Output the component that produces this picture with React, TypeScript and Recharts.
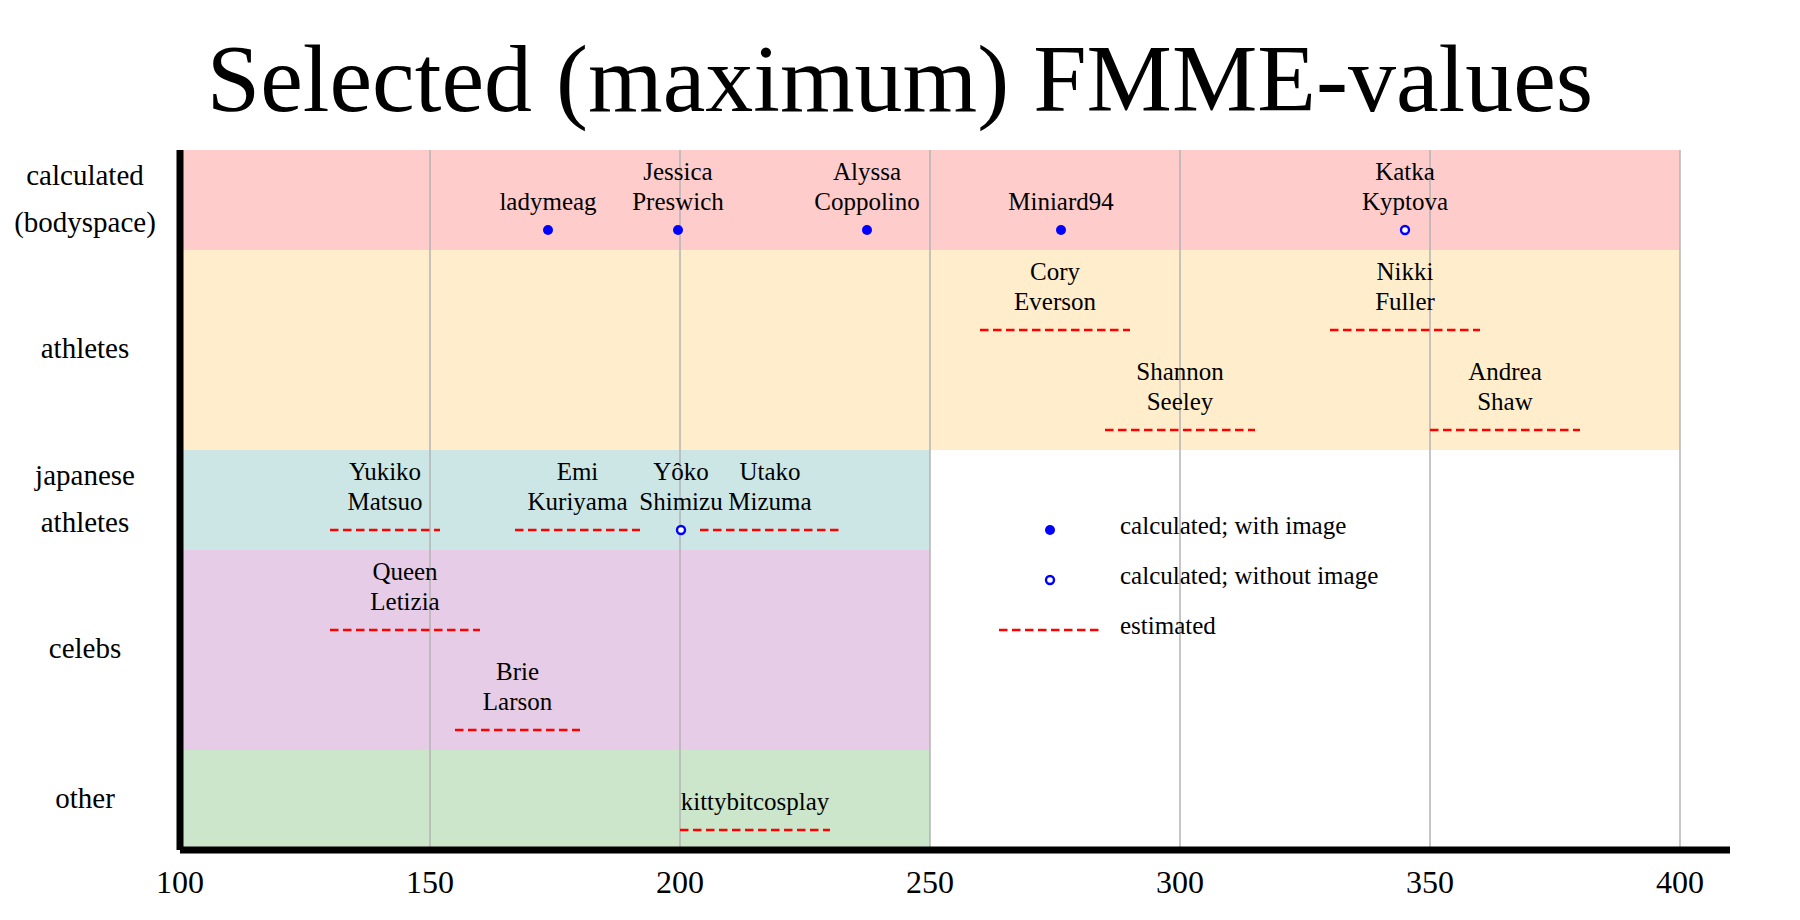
import React from 'react';
import {
  ScatterChart,
  Scatter,
  XAxis,
  YAxis,
  ReferenceArea,
  ReferenceLine,
  Legend,
} from 'recharts';

const FONT = '"Liberation Serif", "Times New Roman", Times, serif';

// groups from top to bottom, number of label rows per group, where each band stops on x
const categories = ['calculated\n(bodyspace)', 'athletes', 'japanese\nathletes', 'celebs', 'other'];
const categoryRows = [1, 2, 1, 2, 1];
const bandEnds = [400, 400, 250, 250, 250];
const bandColors = ['#ffcccc', '#ffedcc', '#cce6e6', '#e6cce6', '#cce6cc'];

const xTicks = [100, 150, 200, 250, 300, 350, 400];
const gridValues = [150, 200, 250, 300, 350, 400];

// calculated values (cat = group index, row = sub row inside the group)
const withImage = [
  { name: 'ladymeag', value: 173.6, cat: 0, row: 0 },
  { name: 'Jessica\nPreswich', value: 199.6, cat: 0, row: 0 },
  { name: 'Alyssa\nCoppolino', value: 237.4, cat: 0, row: 0 },
  { name: 'Miniard94', value: 276.2, cat: 0, row: 0 },
];

const withoutImage = [
  { name: 'Katka\nKyptova', value: 345, cat: 0, row: 0 },
  { name: 'Yôko\nShimizu', value: 200.2, cat: 2, row: 0 },
];

// estimated ranges
const estimated = [
  { name: 'Cory\nEverson', lo: 260, hi: 290, cat: 1, row: 0 },
  { name: 'Nikki\nFuller', lo: 330, hi: 360, cat: 1, row: 0 },
  { name: 'Shannon\nSeeley', lo: 285, hi: 315, cat: 1, row: 1 },
  { name: 'Andrea\nShaw', lo: 350, hi: 380, cat: 1, row: 1 },
  { name: 'Yukiko\nMatsuo', lo: 130, hi: 152, cat: 2, row: 0 },
  { name: 'Emi\nKuriyama', lo: 167, hi: 192, cat: 2, row: 0 },
  { name: 'Utako\nMizuma', lo: 204, hi: 232, cat: 2, row: 0 },
  { name: 'Queen\nLetizia', lo: 130, hi: 160, cat: 3, row: 0 },
  { name: 'Brie\nLarson', lo: 155, hi: 180, cat: 3, row: 1 },
  { name: 'kittybitcosplay', lo: 200, hi: 230, cat: 4, row: 0 },
];

const legendItems = [
  { label: 'calculated; with image', kind: 'filled' },
  { label: 'calculated; without image', kind: 'hollow' },
  { label: 'estimated', kind: 'dash' },
];

// y layout: every sub row is 2 units tall, marks sit a bit below the middle
const ROW_UNITS = 2;
const MARK_OFFSET = 1.6;
const bandStart: number[] = [];
categoryRows.forEach((r, i) => {
  bandStart.push(i === 0 ? 0 : bandStart[i - 1] + categoryRows[i - 1] * ROW_UNITS);
});
const bandEnd = bandStart.map((s, i) => s + categoryRows[i] * ROW_UNITS);
const yMax = bandEnd[bandEnd.length - 1];
const yTicks = bandStart.map((s, i) => (s + bandEnd[i]) / 2);

const markY = (cat: number, row: number) => bandStart[cat] + row * ROW_UNITS + MARK_OFFSET;

const filledData = withImage.map((d) => ({ x: d.value, y: markY(d.cat, d.row), name: d.name }));
const hollowData = withoutImage.map((d) => ({ x: d.value, y: markY(d.cat, d.row), name: d.name }));
const estLabelData = estimated.map((d) => ({ x: (d.lo + d.hi) / 2, y: markY(d.cat, d.row), name: d.name }));

const RED = '#ff0000';
const BLUE = '#0000ff';
const DASH = '8.5 4.5';

function NameLabel({ x, y, name }: { x: number; y: number; name: string }) {
  const lines = name.split('\n');
  return (
    <g>
      {lines.map((l, i) => (
        <text
          key={i}
          x={x}
          y={y - 20 - (lines.length - 1 - i) * 30}
          textAnchor="middle"
          fontSize={25}
          fontFamily={FONT}
          fill="#000"
        >
          {l}
        </text>
      ))}
    </g>
  );
}

function Marker(props: any) {
  const { cx, cy, payload, hollow } = props;
  return (
    <g>
      {hollow ? (
        <circle cx={cx} cy={cy} r={4} fill="#fff" stroke={BLUE} strokeWidth={2.4} />
      ) : (
        <circle cx={cx} cy={cy} r={5} fill={BLUE} />
      )}
      <NameLabel x={cx} y={cy} name={payload.name} />
    </g>
  );
}

function EstLabel(props: any) {
  const { cx, cy, payload } = props;
  return <NameLabel x={cx} y={cy} name={payload.name} />;
}

function XTick(props: any) {
  const { x, y, payload } = props;
  return (
    <text x={x} y={y + 43} textAnchor="middle" fontSize={32} fontFamily={FONT} fill="#000">
      {payload.value}
    </text>
  );
}

function YTick(props: any) {
  const { x, y, payload } = props;
  const idx = yTicks.indexOf(payload.value);
  if (idx < 0) return null;
  const lines = categories[idx].split('\n');
  const offsets = lines.length === 2 ? [-15, 32] : [8];
  return (
    <g>
      {lines.map((l, i) => (
        <text
          key={i}
          x={x - 95}
          y={y + offsets[i]}
          textAnchor="middle"
          fontSize={29}
          fontFamily={FONT}
          fill="#000"
        >
          {l}
        </text>
      ))}
    </g>
  );
}

function LegendBox() {
  return (
    <svg width={400} height={150} style={{ display: 'block' }}>
      {legendItems.map((item, i) => {
        const cy = 25 + i * 50;
        return (
          <g key={item.label}>
            {item.kind === 'filled' && <circle cx={60} cy={cy} r={5} fill={BLUE} />}
            {item.kind === 'hollow' && (
              <circle cx={60} cy={cy} r={4} fill="#fff" stroke={BLUE} strokeWidth={2.4} />
            )}
            {item.kind === 'dash' && (
              <line x1={9} x2={111} y1={cy} y2={cy} stroke={RED} strokeWidth={2.5} strokeDasharray={DASH} />
            )}
            <text x={130} y={cy + 4} fontSize={25} fontFamily={FONT} fill="#000">
              {item.label}
            </text>
          </g>
        );
      })}
    </svg>
  );
}

export default function App() {
  const W = 1784;
  const H = 904;
  return (
    <div style={{ position: 'relative', width: W, height: H }}>
      <svg
        width={W}
        height={140}
        style={{ position: 'absolute', left: 0, top: 0, pointerEvents: 'none' }}
      >
        <text x={W / 2} y={103} textAnchor="middle" fontSize={96} fontFamily={FONT} fill="#000">
          Selected (maximum) FMME-values
        </text>
      </svg>
      <ScatterChart width={W} height={H} margin={{ top: 142, right: 62, bottom: 12, left: 0 }}>
        <XAxis
          type="number"
          dataKey="x"
          domain={[100, 410]}
          ticks={xTicks}
          interval={0}
          allowDataOverflow
          height={50}
          tickSize={0}
          tickMargin={0}
          tickLine={false}
          axisLine={{ stroke: '#000', strokeWidth: 7 }}
          tick={<XTick />}
        />
        <YAxis
          type="number"
          dataKey="y"
          domain={[0, yMax]}
          reversed
          ticks={yTicks}
          interval={0}
          allowDataOverflow
          width={172}
          tickSize={0}
          tickMargin={0}
          tickLine={false}
          axisLine={{ stroke: '#000', strokeWidth: 7 }}
          tick={<YTick />}
        />
        {categories.map((c, i) => (
          <ReferenceArea
            key={c}
            x1={100}
            x2={bandEnds[i]}
            y1={bandStart[i]}
            y2={bandEnd[i]}
            fill={bandColors[i]}
            fillOpacity={1}
            stroke="none"
          />
        ))}
        {gridValues.map((v) => (
          <ReferenceLine key={v} x={v} stroke="#b3b3b3" strokeWidth={1.5} />
        ))}
        {estimated.map((e) => (
          <ReferenceLine
            key={e.name}
            segment={[
              { x: e.lo, y: markY(e.cat, e.row) },
              { x: e.hi, y: markY(e.cat, e.row) },
            ]}
            stroke={RED}
            strokeWidth={2.5}
            strokeDasharray={DASH}
          />
        ))}
        <Scatter data={estLabelData} isAnimationActive={false} shape={<EstLabel />} />
        <Scatter data={filledData} isAnimationActive={false} shape={<Marker />} />
        <Scatter data={hollowData} isAnimationActive={false} shape={<Marker hollow />} />
        <Legend
          layout="horizontal"
          verticalAlign="middle"
          align="center"
          wrapperStyle={{ left: 982, top: 497, width: 400, height: 150 }}
          content={() => <LegendBox />}
        />
      </ScatterChart>
    </div>
  );
}
